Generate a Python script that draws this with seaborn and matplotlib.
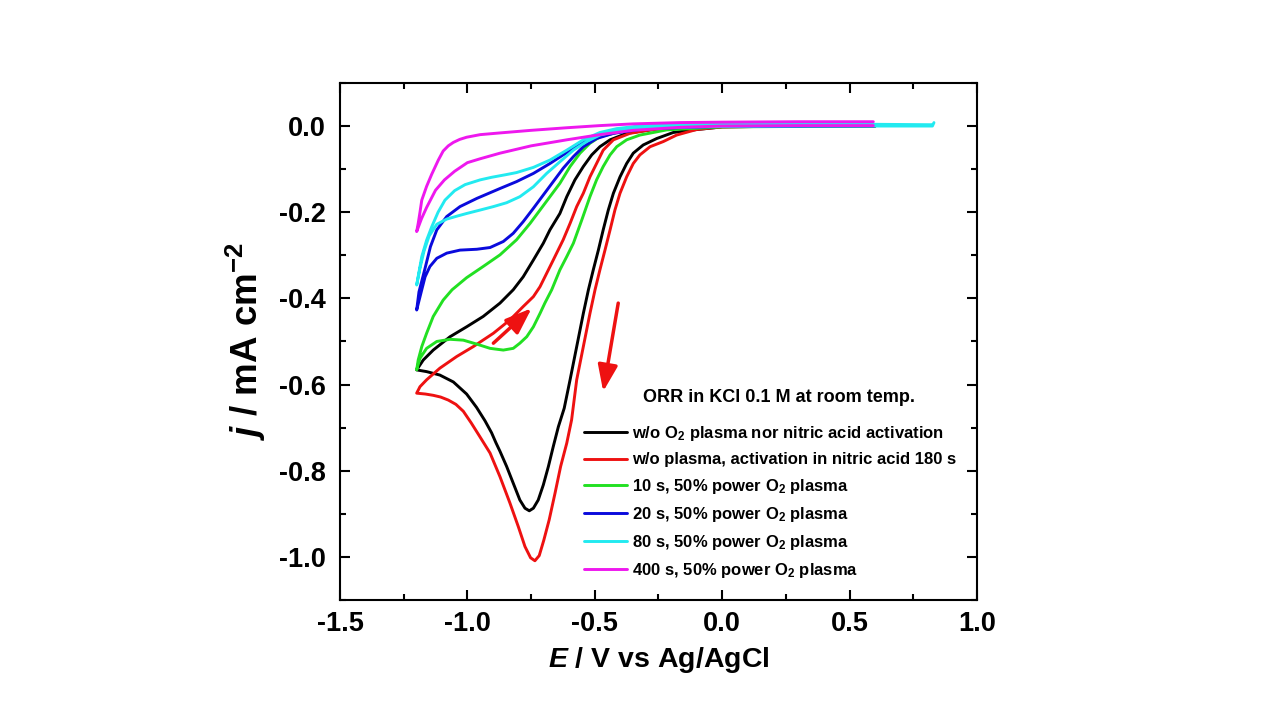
import numpy as np
import pandas as pd
import matplotlib
matplotlib.use("Agg")
import matplotlib.pyplot as plt
from matplotlib.ticker import MultipleLocator, FormatStrFormatter
import seaborn as sns

# curvas: barrido catodico (0.6 V -> -1.2 V) y vuelta anodica
black_E = [0.60, 0.30, 0.00, -0.113, -0.192, -0.257, -0.310, -0.349, -0.375, -0.401, -0.427, -0.447, -0.467,
           -0.486, -0.506, -0.525, -0.545, -0.571, -0.597, -0.620, -0.643, -0.663, -0.682, -0.702, -0.722,
           -0.741, -0.757, -0.774, -0.794, -0.820, -0.846, -0.872, -0.888, -0.905, -0.931, -0.964, -1.003,
           -1.055, -1.108, -1.160, -1.199,
           -1.173, -1.134, -1.068, -1.003, -0.938, -0.872, -0.820, -0.781, -0.741, -0.702, -0.676, -0.637,
           -0.610, -0.578, -0.545, -0.512, -0.480, -0.440, -0.375, -0.283, -0.20, 0.00, 0.60]
black_j = [0.000, 0.000, -0.002, -0.009, -0.015, -0.029, -0.044, -0.063, -0.087, -0.118, -0.156, -0.195, -0.241,
           -0.288, -0.334, -0.380, -0.435, -0.512, -0.589, -0.655, -0.698, -0.744, -0.790, -0.833, -0.868,
           -0.887, -0.893, -0.887, -0.868, -0.829, -0.790, -0.755, -0.735, -0.712, -0.684, -0.653, -0.622,
           -0.594, -0.578, -0.570, -0.566,
           -0.543, -0.520, -0.489, -0.466, -0.442, -0.411, -0.380, -0.350, -0.311, -0.272, -0.241, -0.203,
           -0.164, -0.125, -0.094, -0.067, -0.048, -0.032, -0.017, -0.009, -0.003, 0.000, 0.002]

red_E = [0.60, 0.30, 0.00, -0.10, -0.179, -0.231, -0.283, -0.323, -0.349, -0.375, -0.401, -0.421, -0.440,
         -0.460, -0.480, -0.499, -0.519, -0.545, -0.571, -0.591, -0.610, -0.634, -0.656, -0.679, -0.700,
         -0.718, -0.735, -0.752, -0.774, -0.800, -0.833, -0.872, -0.911, -0.951, -0.985, -1.016, -1.045,
         -1.075, -1.105, -1.134, -1.165, -1.199,
         -1.186, -1.160, -1.108, -1.042, -0.977, -0.898, -0.833, -0.781, -0.741, -0.715, -0.689, -0.663,
         -0.624, -0.597, -0.571, -0.545, -0.519, -0.493, -0.467, -0.427, -0.362, -0.283, -0.20, 0.00, 0.60]
red_j = [0.000, 0.000, -0.002, -0.008, -0.021, -0.036, -0.048, -0.067, -0.087, -0.118, -0.156, -0.195, -0.241,
         -0.288, -0.334, -0.380, -0.435, -0.512, -0.589, -0.682, -0.736, -0.790, -0.852, -0.914, -0.961,
         -0.997, -1.009, -1.002, -0.976, -0.930, -0.875, -0.814, -0.759, -0.721, -0.689, -0.662, -0.646,
         -0.636, -0.629, -0.625, -0.622, -0.620,
         -0.605, -0.589, -0.562, -0.535, -0.512, -0.481, -0.450, -0.419, -0.396, -0.373, -0.342, -0.311,
         -0.264, -0.226, -0.187, -0.156, -0.118, -0.087, -0.056, -0.032, -0.017, -0.009, -0.003, 0.000, 0.002]

green_E = [0.60, 0.00, -0.218, -0.323, -0.375, -0.414, -0.440, -0.467, -0.493, -0.519, -0.551, -0.584, -0.610,
           -0.637, -0.669, -0.696, -0.715, -0.741, -0.767, -0.794, -0.820, -0.859, -0.911, -0.964, -1.016,
           -1.068, -1.120, -1.160, -1.186, -1.199,
           -1.193, -1.179, -1.160, -1.134, -1.095, -1.060, -1.003, -0.938, -0.872, -0.807, -0.754, -0.715,
           -0.676, -0.637, -0.597, -0.558, -0.519, -0.480, -0.414, -0.349, -0.20, 0.00, 0.60]
green_j = [0.000, -0.002, -0.009, -0.021, -0.032, -0.048, -0.067, -0.094, -0.125, -0.164, -0.218, -0.272, -0.303,
           -0.334, -0.380, -0.411, -0.435, -0.466, -0.489, -0.504, -0.516, -0.520, -0.516, -0.506, -0.497,
           -0.495, -0.500, -0.516, -0.539, -0.566,
           -0.543, -0.512, -0.481, -0.442, -0.404, -0.380, -0.352, -0.326, -0.299, -0.264, -0.226, -0.195,
           -0.164, -0.133, -0.094, -0.063, -0.040, -0.025, -0.015, -0.009, -0.003, 0.000, 0.002]

blue_E = [0.60, 0.00, -0.30, -0.427, -0.493, -0.545, -0.584, -0.624, -0.663, -0.702, -0.741, -0.781, -0.820,
          -0.859, -0.911, -0.963, -1.029, -1.081, -1.120, -1.147, -1.166, -1.179, -1.199,
          -1.190, -1.166, -1.145, -1.120, -1.081, -1.029, -0.963, -0.872, -0.807, -0.741, -0.676, -0.624,
          -0.571, -0.519, -0.453, -0.35, -0.20, 0.00, 0.60]
blue_j = [0.000, -0.001, -0.006, -0.017, -0.029, -0.048, -0.071, -0.098, -0.129, -0.160, -0.191, -0.222, -0.249,
          -0.268, -0.282, -0.286, -0.288, -0.295, -0.307, -0.326, -0.350, -0.380, -0.427,
          -0.385, -0.330, -0.280, -0.241, -0.210, -0.187, -0.168, -0.145, -0.129, -0.110, -0.087, -0.067,
          -0.048, -0.029, -0.017, -0.007, -0.002, 0.000, 0.002]

cyan_E = [0.831, 0.825, 0.30, 0.00, -0.30, -0.401, -0.480, -0.532, -0.584, -0.637, -0.689, -0.741, -0.794,
          -0.846, -0.898, -0.950, -1.003, -1.040, -1.081, -1.120, -1.150, -1.170, -1.186, -1.199,
          -1.179, -1.160, -1.140, -1.115, -1.088, -1.050, -1.009, -0.950, -0.905, -0.850, -0.807, -0.741,
          -0.676, -0.610, -0.545, -0.480, -0.414, -0.30, 0.00, 0.60, 0.825]
cyan_j = [0.008, 0.000, 0.000, -0.001, -0.004, -0.009, -0.021, -0.036, -0.056, -0.083, -0.110, -0.141, -0.164,
          -0.178, -0.187, -0.195, -0.203, -0.209, -0.216, -0.228, -0.255, -0.290, -0.330, -0.369,
          -0.303, -0.265, -0.234, -0.200, -0.172, -0.150, -0.136, -0.125, -0.119, -0.113, -0.108, -0.096,
          -0.079, -0.056, -0.032, -0.015, -0.006, 0.002, 0.004, 0.004, 0.003]

magenta_E = [0.593, 0.30, 0.00, -0.166, -0.35, -0.48, -0.61, -0.75, -0.872, -0.95, -1.00, -1.05, -1.09,
             -1.125, -1.16, -1.18, -1.199,
             -1.193, -1.186, -1.179, -1.16, -1.14, -1.114, -1.095, -1.075, -1.055, -1.03, -1.003, -0.95,
             -0.872, -0.75, -0.61, -0.48, -0.35, -0.166, 0.00, 0.30, 0.593]
magenta_j = [0.001, 0.001, 0.000, -0.003, -0.010, -0.020, -0.032, -0.046, -0.063, -0.076, -0.085, -0.105, -0.125,
             -0.149, -0.189, -0.215, -0.245,
             -0.226, -0.200, -0.172, -0.140, -0.112, -0.079, -0.058, -0.046, -0.038, -0.031, -0.026, -0.020,
             -0.016, -0.010, -0.004, 0.001, 0.005, 0.008, 0.009, 0.010, 0.010]

labels = [r"w/o O$_2$ plasma nor nitric acid activation",
          "w/o plasma, activation in nitric acid 180 s",
          r"10 s, 50% power O$_2$ plasma",
          r"20 s, 50% power O$_2$ plasma",
          r"80 s, 50% power O$_2$ plasma",
          r"400 s, 50% power O$_2$ plasma"]
colors = ["#000000", "#ee1111", "#22e022", "#0a0adc", "#22eaf0", "#ee18ee"]
curves = [(black_E, black_j), (red_E, red_j), (green_E, green_j),
          (blue_E, blue_j), (cyan_E, cyan_j), (magenta_E, magenta_j)]

# flechas de sentido de barrido (cola, punta)
arrow_up = ((-0.898, -0.504), (-0.748, -0.423))
arrow_down = ((-0.408, -0.411), (-0.467, -0.616))

sns.set_theme(style="ticks")
plt.rcParams["font.family"] = ["Liberation Sans", "DejaVu Sans"]
plt.rcParams["font.weight"] = "bold"
plt.rcParams["axes.unicode_minus"] = False
plt.rcParams["mathtext.fontset"] = "custom"
plt.rcParams["mathtext.rm"] = "Liberation Sans:bold"
plt.rcParams["mathtext.bf"] = "Liberation Sans:bold"
plt.rcParams["mathtext.it"] = "Liberation Sans:italic:bold"
plt.rcParams["mathtext.default"] = "rm"

fig = plt.figure(figsize=(12.8, 7.2), dpi=100)
ax = fig.add_axes([0.2656, 0.1667, 0.4977, 0.7181])

for (E, j), lab, col in zip(curves, labels, colors):
    df = pd.DataFrame({"E": E, "j": j})
    sns.lineplot(data=df, x="E", y="j", sort=False, estimator=None, color=col, lw=2.1, label=lab, ax=ax)

for tail, tip in [arrow_up, arrow_down]:
    ax.annotate("", xy=tip, xytext=tail,
                arrowprops=dict(arrowstyle="-|>,head_length=0.8,head_width=0.3", color="#ee1111",
                                lw=2.5, mutation_scale=20, shrinkA=0, shrinkB=0))

ax.set_xlim(-1.5, 1.0)
ax.set_ylim(-1.1, 0.1)
ax.xaxis.set_major_locator(MultipleLocator(0.5))
ax.xaxis.set_minor_locator(MultipleLocator(0.25))
ax.yaxis.set_major_locator(MultipleLocator(0.2))
ax.yaxis.set_minor_locator(MultipleLocator(0.1))
ax.xaxis.set_major_formatter(FormatStrFormatter("%.1f"))
ax.yaxis.set_major_formatter(FormatStrFormatter("%.1f"))
ax.tick_params(which="both", direction="in", top=True, right=True, width=1.5, colors="black")
ax.tick_params(which="major", length=7, labelsize=19.5)
ax.tick_params(which="minor", length=4)
ax.tick_params(axis="y", pad=10)
ax.tick_params(axis="x", pad=8)
for sp in ax.spines.values():
    sp.set_linewidth(1.5)
    sp.set_color("black")

ax.set_xlabel(r"$\mathit{E}$ / V vs Ag/AgCl", fontsize=20.5, fontweight="bold", color="black", labelpad=6)
ax.set_ylabel(r"$\mathit{j}$ / mA cm$^{-2}$", fontsize=26.5, fontweight="bold", color="black", labelpad=8)

ax.text(0.689, 0.392, "ORR in KCl 0.1 M at room temp.", transform=ax.transAxes, ha="center", va="center",
        fontsize=13, fontweight="bold", color="black")
ax.legend(loc="upper left", bbox_to_anchor=(0.383, 0.340), frameon=False, fontsize=12, labelcolor="black",
          handlelength=2.6, handletextpad=0.3, labelspacing=0.55, borderpad=0, borderaxespad=0)

fig.savefig("out.png", dpi=100)
